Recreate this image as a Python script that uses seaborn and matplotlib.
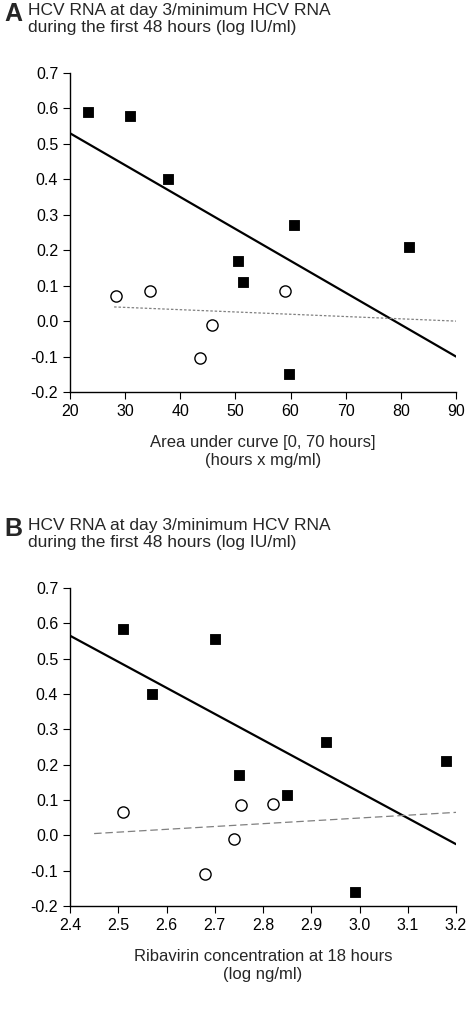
import matplotlib
matplotlib.use("Agg")
import matplotlib.pyplot as plt
import seaborn as sns

sns.set_style("ticks")
plt.rcParams['font.family'] = ['Liberation Sans', 'DejaVu Sans']

a_sq_x = [23.3, 30.9, 37.8, 50.5, 51.4, 60.7, 59.8, 81.5]
a_sq_y = [0.59, 0.58, 0.40, 0.17, 0.11, 0.27, -0.15, 0.21]
a_ci_x = [28.4, 34.5, 45.8, 43.6, 59.0]
a_ci_y = [0.07, 0.085, -0.01, -0.105, 0.085]
a_fit_x = [20, 90]; a_fit_y = [0.53, -0.10]
a_dot_x = [28, 90]; a_dot_y = [0.04, 0.0]

b_sq_x = [2.51, 2.57, 2.70, 2.75, 2.85, 2.93, 2.99, 3.18]
b_sq_y = [0.585, 0.40, 0.555, 0.17, 0.115, 0.265, -0.16, 0.21]
b_ci_x = [2.51, 2.68, 2.74, 2.755, 2.82]
b_ci_y = [0.065, -0.11, -0.01, 0.085, 0.09]
b_fit_x = [2.4, 3.2]; b_fit_y = [0.565, -0.025]
b_dash_x = [2.45, 3.2]; b_dash_y = [0.005, 0.065]

fig = plt.figure(figsize=(4.74, 10.19), dpi=100)
W, H = 474, 1019
def ax_at(l, t, r, b):
    return fig.add_axes([l/W, 1-b/H, (r-l)/W, (b-t)/H])

yt = [0.7, 0.6, 0.5, 0.4, 0.3, 0.2, 0.1, 0.0, -0.1, -0.2]
def style(ax, xlim, xt, xfmt, xlabel):
    ax.set_xlim(*xlim); ax.set_ylim(-0.2, 0.7)
    ax.set_yticks(yt); ax.set_yticklabels([f"{v:.1f}" for v in yt], fontsize=11.5)
    ax.set_xticks(xt); ax.set_xticklabels([xfmt(v) for v in xt], fontsize=11.5)
    ax.set_xlabel(xlabel, fontsize=12, labelpad=12)
    sns.despine(ax=ax)
    for s in ax.spines.values(): s.set_color('black'); s.set_linewidth(1)
    ax.tick_params(colors='black', length=5)

axA = ax_at(70, 73, 456, 392)
sns.lineplot(x=a_fit_x, y=a_fit_y, ax=axA, color='black', lw=1.6)
sns.lineplot(x=a_dot_x, y=a_dot_y, ax=axA, color='gray', lw=0.9, linestyle=(0, (2, 1.5)))
sns.scatterplot(x=a_sq_x, y=a_sq_y, ax=axA, marker='s', color='black', s=60, edgecolor='black')
sns.scatterplot(x=a_ci_x, y=a_ci_y, ax=axA, marker='o', facecolor='white', edgecolor='black', s=65, linewidth=1)
style(axA, (20, 90), list(range(20, 91, 10)), lambda v: str(v), "Area under curve [0, 70 hours]\n(hours x mg/ml)")

axB = ax_at(70, 588, 456, 906)
sns.lineplot(x=b_fit_x, y=b_fit_y, ax=axB, color='black', lw=1.6)
sns.lineplot(x=b_dash_x, y=b_dash_y, ax=axB, color='gray', lw=0.9, linestyle=(0, (6, 3)))
sns.scatterplot(x=b_sq_x, y=b_sq_y, ax=axB, marker='s', color='black', s=60, edgecolor='black')
sns.scatterplot(x=b_ci_x, y=b_ci_y, ax=axB, marker='o', facecolor='white', edgecolor='black', s=65, linewidth=1)
bt = [2.4 + 0.1*i for i in range(9)]
style(axB, (2.4, 3.2), bt, lambda v: f"{v:.1f}", "Ribavirin concentration at 18 hours\n(log ng/ml)")

t = "HCV RNA at day 3/minimum HCV RNA\nduring the first 48 hours (log IU/ml)"
fig.text(4/W, 1-2/H, "A", fontsize=18, fontweight='bold', va='top')
fig.text(28/W, 1-3/H, t, fontsize=12.5, va='top')
fig.text(4/W, 1-517/H, "B", fontsize=18, fontweight='bold', va='top')
fig.text(28/W, 1-518/H, t, fontsize=12.5, va='top')

fig.savefig("out.png", dpi=100)
